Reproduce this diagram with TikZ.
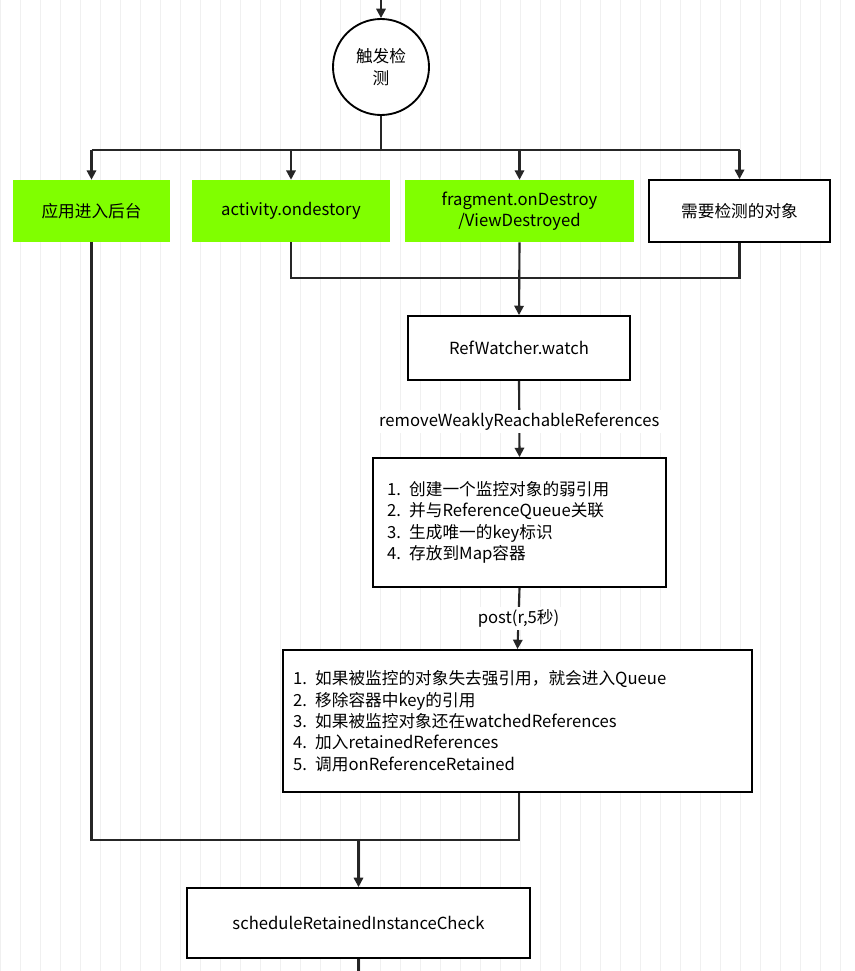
\documentclass[tikz,border=0pt]{standalone}
\usepackage{fontspec}
\setmainfont{Noto Sans CJK SC}
\usetikzlibrary{arrows.meta}
\definecolor{lgreen}{RGB}{128,255,0}
\begin{document}
\begin{tikzpicture}[x=0.75pt,y=-0.75pt,
  font=\fontsize{12.5}{16}\selectfont,
  box/.style={draw=black,line width=1.4pt,fill=white,inner sep=0pt,align=center},
  gbox/.style={fill=lgreen,inner sep=0pt,align=center},
  ln/.style={line width=1.6pt,draw=black!85},
  arr/.style={ln,-{Triangle[length=7pt,width=7pt]}}]
\useasboundingbox (0,0) rectangle (854,971);
\fill[white] (0,0) rectangle (854,971);
\draw[black!6,step=20] (0,0) grid (854,971);
% nodes
\node[box,circle,minimum size=96pt*0.75] (c) at (381,67) {触发检\\测};
\node[gbox,minimum width=157*0.75pt,minimum height=62*0.75pt] (b1) at (91.5,211) {应用进入后台};
\node[gbox,minimum width=198*0.75pt,minimum height=62*0.75pt] (b2) at (291,211) {activity.ondestory};
\node[gbox,minimum width=229*0.75pt,minimum height=62*0.75pt] (b3) at (519.5,211) {fragment.onDestroy\\/ViewDestroyed};
\node[box,minimum width=181*0.75pt,minimum height=62*0.75pt] (b4) at (739.5,211) {需要检测的对象};
\node[box,minimum width=222*0.75pt,minimum height=64*0.75pt] (rw) at (519,348) {RefWatcher.watch};
\node[box,minimum width=293*0.75pt,minimum height=129*0.75pt,align=left,text width=265*0.75pt] (s1) at (519.5,522.5)
  {1. 创建一个监控对象的弱引用\\2. 并与ReferenceQueue关联\\3. 生成唯一的key标识\\4. 存放到Map容器};
\node[box,minimum width=469*0.75pt,minimum height=142*0.75pt,align=left,text width=449*0.75pt] (s2) at (517.5,721)
  {1. 如果被监控的对象失去强引用，就会进入Queue\\2. 移除容器中key的引用\\3. 如果被监控对象还在watchedReferences\\4. 加入retainedReferences\\5. 调用onReferenceRetained};
\node[box,minimum width=343*0.75pt,minimum height=70*0.75pt] (sc) at (358.5,923) {scheduleRetainedInstanceCheck};
\coordinate (top) at (381,0);
\coordinate (h) at (381,150);
\coordinate (m) at (519,278);
\coordinate (j) at (519,840);
\coordinate (bot) at (358.5,971);
% connectors
\draw[arr] (top) -- (c);
\draw[ln] (c) -- (h);
\draw[ln] (b1.north |- h) -- (b4.north |- h);
\foreach \b in {b1,b2,b3,b4} \draw[arr] (\b.north |- h) -- (\b.north);
\draw[ln] (b2.south) -- (b2.south |- m) -- (b4.south |- m) -- (b4.south);
\draw[arr] (b3.south) -- (rw.north);
\draw[arr] (rw.south) -- node[fill=white,inner sep=2pt,pos=0.53] {removeWeaklyReachableReferences} (s1.north);
\draw[arr] (s1.south) -- node[fill=white,inner sep=2pt,pos=0.5] {post(r,5秒)} (s2.north);
\draw[ln] (s2.south -| j) -- (j) -- (b1.south |- j) -- (b1.south);
\draw[arr] (sc.north |- j) -- (sc.north);
\draw[ln] (sc.south) -- (bot);
\end{tikzpicture}
\end{document}
